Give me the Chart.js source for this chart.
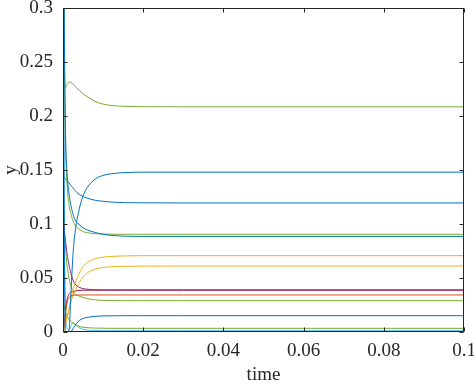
<!DOCTYPE html>
<html><head><meta charset="utf-8">
<script src="https://cdn.jsdelivr.net/npm/chart.js@4"></script>
<style>html,body{margin:0;padding:0;background:#fff;}#wrap{width:474px;height:386px;}</style>
</head><body><div id="wrap"><canvas id="c" width="474" height="386"></canvas></div>
<script>
// time samples (s)
const time = [0, 0.0003, 0.0006, 0.001, 0.0015, 0.002, 0.0025, 0.003, 0.004, 0.005, 0.006, 0.008, 0.010, 0.012, 0.015, 0.02, 0.03, 0.1];

const xTicks = [0, 0.02, 0.04, 0.06, 0.08, 0.1];
const xTickLabels = ['0', '0.02', '0.04', '0.06', '0.08', '0.1'];
const yTicks = [0, 0.05, 0.1, 0.15, 0.2, 0.25, 0.3];
const yTickLabels = ['0', '0.05', '0.1', '0.15', '0.2', '0.25', '0.3'];

// series values on the time grid
const greenTop   = [0.45, 0.26, 0.2265, 0.229, 0.2315, 0.2312, 0.2295, 0.2275, 0.224, 0.2205, 0.218, 0.2135, 0.211, 0.2098, 0.209, 0.2086, 0.2085, 0.2085];
const blueRise   = [0.4, 0.1, 0, 0, 0.002, 0.038, 0.072, 0.092, 0.113, 0.126, 0.1335, 0.1415, 0.145, 0.1465, 0.1475, 0.148, 0.148, 0.148];
const blueDecay  = [0.145, 0.143, 0.142, 0.1405, 0.138, 0.1355, 0.1335, 0.131, 0.1275, 0.1255, 0.124, 0.122, 0.121, 0.1203, 0.1198, 0.1196, 0.1195, 0.1195];
const blueMid    = [0.5, 0.3, 0.19, 0.148, 0.128, 0.117, 0.109, 0.104, 0.0995, 0.0965, 0.0945, 0.0922, 0.0905, 0.0895, 0.0888, 0.0885, 0.0885, 0.0885];
const greenMid   = [0.5, 0.28, 0.18, 0.138, 0.118, 0.109, 0.103, 0.099, 0.0953, 0.093, 0.092, 0.091, 0.0907, 0.0905, 0.0905, 0.0905, 0.0905, 0.0905];
const yellowHigh = [0, 0.002, 0.006, 0.013, 0.021, 0.031, 0.039, 0.045, 0.054, 0.0605, 0.064, 0.0678, 0.0693, 0.07, 0.0704, 0.0707, 0.0707, 0.0707];
const yellowLow  = [0, 0.003, 0.008, 0.015, 0.0205, 0.028, 0.034, 0.038, 0.0455, 0.051, 0.0545, 0.0582, 0.0597, 0.0604, 0.0608, 0.061, 0.0611, 0.0611];
const purple     = [0.105, 0.095, 0.085, 0.073, 0.062, 0.054, 0.048, 0.0445, 0.0415, 0.0402, 0.0396, 0.0392, 0.039, 0.039, 0.039, 0.039, 0.039, 0.039];
const darkRed    = [0, 0.008, 0.02, 0.03, 0.035, 0.037, 0.0375, 0.038, 0.0385, 0.0387, 0.0387, 0.0387, 0.0387, 0.0387, 0.0387, 0.0387, 0.0387, 0.0387];
const orange     = [0, 0.006, 0.016, 0.027, 0.032, 0.0335, 0.034, 0.0342, 0.0343, 0.0343, 0.0343, 0.0343, 0.0343, 0.0343, 0.0343, 0.0343, 0.0343, 0.0343];
const greenLow   = [0.14, 0.1, 0.08, 0.062, 0.05, 0.042, 0.0375, 0.035, 0.0333, 0.032, 0.031, 0.0298, 0.0293, 0.0291, 0.029, 0.029, 0.029, 0.029];
const blueLow    = [0, 0, 0, 0, 0, 0.0005, 0.003, 0.006, 0.0105, 0.0125, 0.0135, 0.0145, 0.0149, 0.015, 0.0151, 0.0151, 0.0151, 0.0151];
const greenFloor = [0.03, 0.024, 0.019, 0.015, 0.012, 0.0098, 0.008, 0.0068, 0.0052, 0.0044, 0.004, 0.0036, 0.0035, 0.0034, 0.0034, 0.0034, 0.0034, 0.0034];
const cyan       = [0.4, 0.12, 0.03, 0.004, 0.002, 0.006, 0.009, 0.007, 0.004, 0.0025, 0.0018, 0.0014, 0.0012, 0.0012, 0.0012, 0.0012, 0.0012, 0.0012];

const seriesList = [
  [blueRise, '#0072BD'], [blueDecay, '#0072BD'], [blueMid, '#0072BD'], [blueLow, '#0072BD'],
  [orange, '#D95319'], [yellowHigh, '#EDB120'], [yellowLow, '#EDB120'],
  [purple, '#7E2F8E'], [darkRed, '#A2142F'],
  [greenLow, '#77AC30'], [greenFloor, '#77AC30'], [greenMid, '#77AC30'], [greenTop, '#77AC30'],
  [cyan, '#4DBEEE']
];

const font = { family: "'Liberation Serif','Times New Roman',serif", size: 19 };
const ink = '#262626';

const frame = {
  id: 'frame',
  afterDatasetsDraw(chart) {
    const { ctx, chartArea: a, scales: { x, y } } = chart;
    ctx.save();
    ctx.strokeStyle = ink;
    ctx.lineWidth = 1;
    const L = Math.round(a.left) + 0.5, R = Math.round(a.right) - 0.5;
    const T = Math.round(a.top) + 0.5, B = Math.round(a.bottom) - 0.5;
    ctx.strokeRect(L, T, R - L, B - T);
    const len = 4;
    ctx.beginPath();
    xTicks.forEach(v => {
      const px = Math.round(x.getPixelForValue(v)) + 0.5;
      ctx.moveTo(px, B); ctx.lineTo(px, B - len);
      ctx.moveTo(px, T); ctx.lineTo(px, T + len);
    });
    yTicks.forEach(v => {
      const py = Math.round(y.getPixelForValue(v)) + 0.5;
      ctx.moveTo(L, py); ctx.lineTo(L + len, py);
      ctx.moveTo(R, py); ctx.lineTo(R - len, py);
    });
    ctx.stroke();
    ctx.restore();
  }
};

new Chart(document.getElementById('c'), {
  type: 'line',
  data: {
    datasets: seriesList.map(([vals, color]) => ({
      data: time.map((t, i) => ({ x: t, y: vals[i] })),
      borderColor: color,
      borderWidth: 1,
      pointRadius: 0,
      fill: false,
      cubicInterpolationMode: 'monotone'
    }))
  },
  options: {
    responsive: false,
    animation: false,
    devicePixelRatio: 1,
    layout: { padding: { top: 8, right: 10, left: 0, bottom: 0 } },
    plugins: { legend: { display: false }, tooltip: { enabled: false } },
    scales: {
      x: {
        type: 'linear', min: 0, max: 0.1,
        afterBuildTicks: s => { s.ticks = xTicks.map(v => ({ value: v })); },
        ticks: { callback: (v, i) => xTickLabels[i], font, color: ink, padding: 8, maxRotation: 0, autoSkip: false },
        grid: { display: false, drawTicks: false },
        border: { display: false },
        title: { display: true, text: 'time', font, color: ink, padding: 0 },
        afterFit: s => { s.height = 54; s.paddingLeft = 0; s.paddingRight = 0; }
      },
      y: {
        type: 'linear', min: 0, max: 0.3,
        afterBuildTicks: s => { s.ticks = yTicks.map(v => ({ value: v })); },
        ticks: { callback: (v, i) => yTickLabels[i], font, color: ink, padding: 10, autoSkip: false },
        grid: { display: false, drawTicks: false },
        border: { display: false },
        title: { display: true, text: 'y', font, color: ink, padding: 0 },
        afterFit: s => { s.width = 63; s.paddingTop = 0; s.paddingBottom = 0; }
      }
    }
  },
  plugins: [frame]
});
</script>
</body></html>
